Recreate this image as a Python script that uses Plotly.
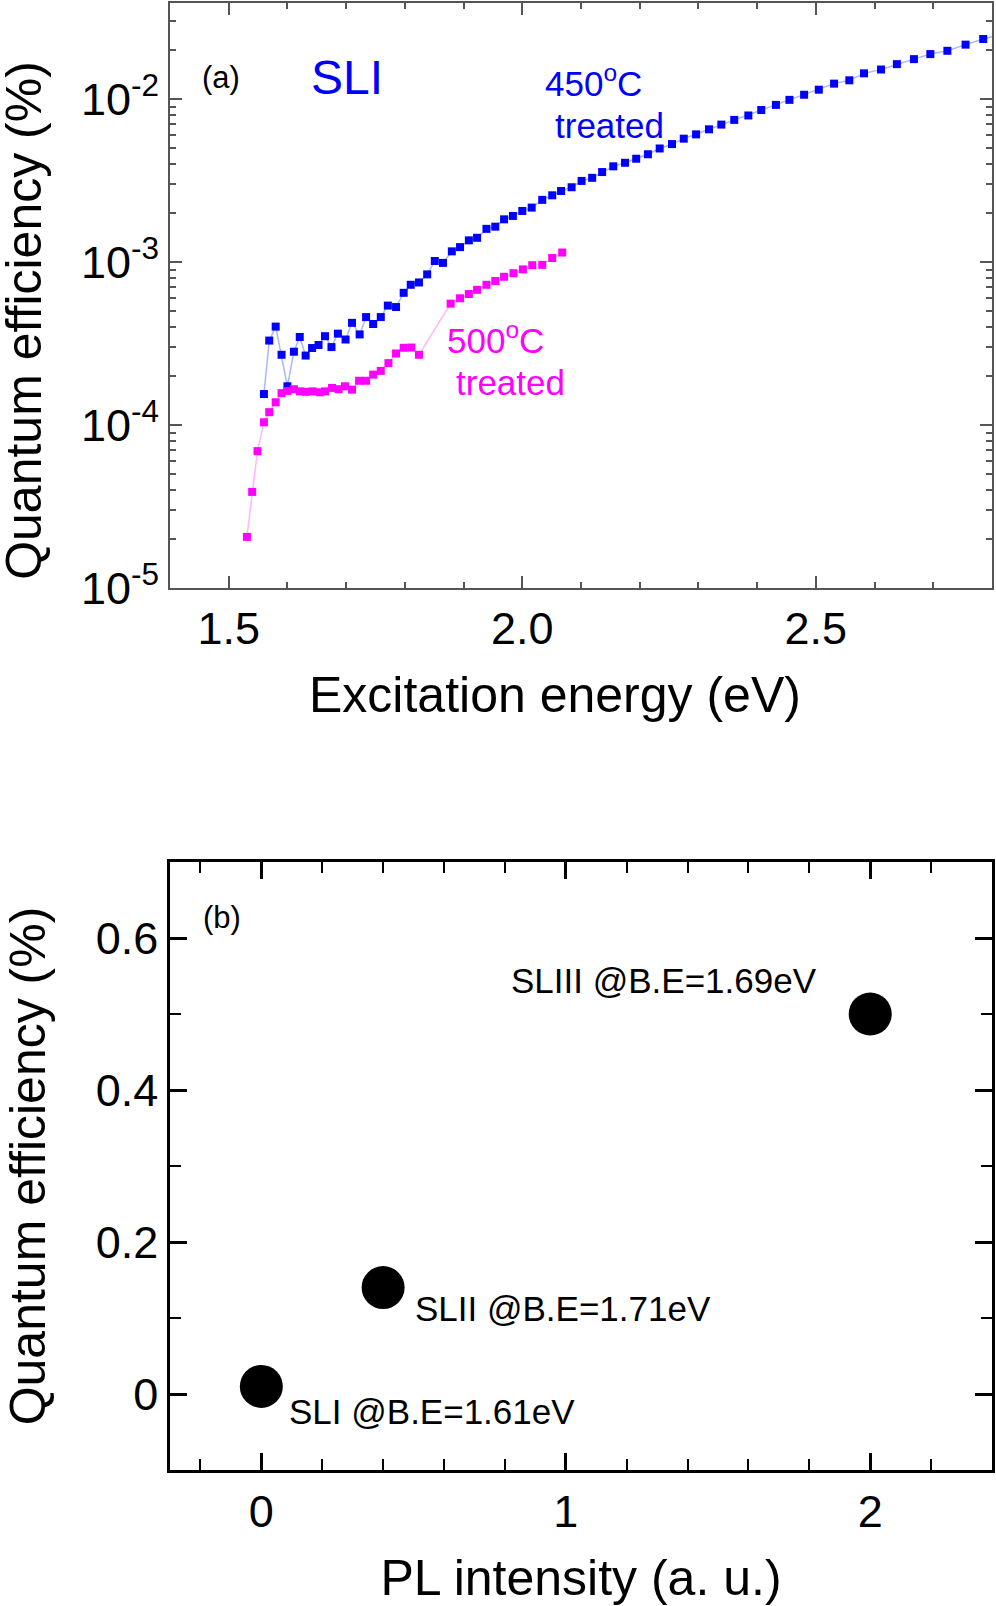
import plotly.graph_objects as go

# ---------------- data: panel (a) ----------------
blue_x = [1.560, 1.569, 1.580, 1.590, 1.600, 1.611, 1.621, 1.631, 1.642, 1.653,
          1.664, 1.675, 1.686, 1.699, 1.710, 1.723, 1.734, 1.746, 1.759, 1.771,
          1.785, 1.798, 1.810, 1.824, 1.838, 1.851, 1.865, 1.880, 1.894, 1.909,
          1.923, 1.939, 1.954, 1.969, 1.984, 2.000, 2.016, 2.034, 2.051, 2.066,
          2.084, 2.101, 2.119, 2.136, 2.155, 2.175, 2.194, 2.214, 2.234, 2.255,
          2.275, 2.296, 2.318, 2.339, 2.361, 2.385, 2.407, 2.432, 2.455, 2.480,
          2.505, 2.531, 2.557, 2.582, 2.611, 2.638, 2.667, 2.695, 2.724, 2.755,
          2.785, 2.815]
blue_y = [1.55e-4, 3.30e-4, 4.02e-4, 2.70e-4, 1.73e-4, 2.82e-4, 3.47e-4, 2.67e-4, 2.97e-4, 3.10e-4,
          3.51e-4, 3.01e-4, 3.64e-4, 3.35e-4, 4.24e-4, 3.60e-4, 4.60e-4, 4.17e-4, 4.60e-4, 5.41e-4,
          5.30e-4, 6.48e-4, 7.26e-4, 7.50e-4, 8.41e-4, 1.016e-3, 0.989e-3, 1.164e-3, 1.236e-3, 1.36e-3,
          1.41e-3, 1.60e-3, 1.65e-3, 1.83e-3, 1.92e-3, 2.06e-3, 2.16e-3, 2.41e-3, 2.57e-3, 2.73e-3,
          2.88e-3, 3.15e-3, 3.29e-3, 3.57e-3, 3.87e-3, 4.07e-3, 4.31e-3, 4.59e-3, 4.98e-3, 5.30e-3,
          5.72e-3, 6.08e-3, 6.53e-3, 6.98e-3, 7.46e-3, 7.94e-3, 8.58e-3, 9.22e-3, 9.90e-3, 1.064e-2,
          1.143e-2, 1.245e-2, 1.305e-2, 1.44e-2, 1.52e-2, 1.64e-2, 1.76e-2, 1.89e-2, 1.98e-2, 2.16e-2,
          2.34e-2, 2.50e-2]

pink_x = [1.531, 1.540, 1.549, 1.560, 1.569, 1.580, 1.590, 1.600, 1.611, 1.621,
          1.632, 1.643, 1.655, 1.664, 1.676, 1.687, 1.698, 1.710, 1.722, 1.734,
          1.746, 1.759, 1.772, 1.785, 1.798, 1.811, 1.824, 1.878, 1.894, 1.909,
          1.923, 1.939, 1.954, 1.969, 1.985, 2.001, 2.017, 2.034, 2.051, 2.068]
pink_y = [2.06e-5, 3.89e-5, 6.92e-5, 1.04e-4, 1.20e-4, 1.38e-4, 1.57e-4, 1.62e-4, 1.66e-4, 1.61e-4,
          1.60e-4, 1.61e-4, 1.59e-4, 1.61e-4, 1.69e-4, 1.66e-4, 1.73e-4, 1.65e-4, 1.87e-4, 1.87e-4,
          2.04e-4, 2.15e-4, 2.40e-4, 2.75e-4, 2.98e-4, 2.99e-4, 2.70e-4, 5.56e-4, 6.00e-4, 6.37e-4,
          6.76e-4, 7.26e-4, 7.66e-4, 8.13e-4, 8.55e-4, 9.02e-4, 9.57e-4, 9.62e-4, 1.06e-3, 1.145e-3]

a_ytick_vals = [1e-5, 1e-4, 1e-3, 1e-2]
a_ytick_text = ["10<sup>-5</sup>", "10<sup>-4</sup>", "10<sup>-3</sup>", "10<sup>-2</sup>"]

# ---------------- data: panel (b) ----------------
pl_intensity = [0.0, 0.4, 2.0]
qe_b = [0.01, 0.14, 0.50]
b_labels = ["SLI @B.E=1.61eV", "SLII @B.E=1.71eV", "SLIII @B.E=1.69eV"]
b_ytick_vals = [0, 0.2, 0.4, 0.6]
b_ytick_text = ["0", "0.2", "0.4", "0.6"]

FONT = "Liberation Sans, Arial, Helvetica, sans-serif"
BLUE = "#0000ff"
MAG = "#ff00ff"
GRAY = "#555555"

# minor log ticks
minor_log = [m * 10.0 ** e for e in range(-5, -1) for m in range(2, 10)]
minor_log = [v for v in minor_log if v < 0.038]

fig = go.Figure()

fig.add_trace(go.Scatter(
    x=blue_x, y=blue_y, mode="lines+markers",
    line=dict(color="rgba(90,110,255,0.5)", width=1.5),
    marker=dict(symbol="square", size=8, color=BLUE),
    xaxis="x", yaxis="y", showlegend=False))
fig.add_trace(go.Scatter(
    x=pink_x, y=pink_y, mode="lines+markers",
    line=dict(color="rgba(255,110,255,0.5)", width=1.5),
    marker=dict(symbol="square", size=8, color=MAG),
    xaxis="x", yaxis="y", showlegend=False))

fig.add_trace(go.Scatter(
    x=pl_intensity, y=qe_b, mode="markers",
    marker=dict(symbol="circle", size=43, color="black"),
    xaxis="x2", yaxis="y2", showlegend=False))

ax_common = dict(showgrid=False, zeroline=False, showline=True, mirror="ticks",
                 ticks="inside", automargin=False,
                 tickfont=dict(family=FONT, size=45, color="black"))

fig.update_layout(
    width=996, height=1606,
    margin=dict(l=170, r=4, t=3, b=136),
    paper_bgcolor="white", plot_bgcolor="white",
    font=dict(family=FONT, color="black"),
    xaxis=dict(**ax_common, domain=[0, 1], anchor="y", range=[1.4, 2.8],
               tickvals=[1.5, 2.0, 2.5], ticktext=["1.5", "2.0", "2.5"],
               ticklen=12, tickwidth=2, tickcolor=GRAY, linecolor=GRAY, linewidth=2,
               minor=dict(tickmode="linear", tick0=1.5, dtick=0.1, ticklen=6,
                          tickwidth=1.5, tickcolor=GRAY, ticks="inside")),
    yaxis=dict(**ax_common, domain=[0.6012, 1.0], anchor="x", type="log",
               range=[-5, -1.41], tickvals=a_ytick_vals, ticktext=a_ytick_text,
               ticklen=12, tickwidth=2, tickcolor=GRAY, linecolor=GRAY, linewidth=2,
               minor=dict(tickmode="array", tickvals=minor_log, ticklen=6,
                          tickwidth=1.5, tickcolor=GRAY, ticks="inside")),
    xaxis2=dict(**ax_common, domain=[0, 1], anchor="y2", range=[-0.3, 2.4],
                tickvals=[0, 1, 2], ticktext=["0", "1", "2"],
                ticklen=17, tickwidth=2.5, tickcolor="black", linecolor="black", linewidth=2.5,
                minor=dict(tickmode="linear", tick0=0, dtick=0.2, ticklen=11,
                           tickwidth=2, tickcolor="black", ticks="inside"),
                title=dict(text="PL intensity (a. u.)", standoff=25,
                           font=dict(family=FONT, size=50, color="black"))),
    yaxis2=dict(**ax_common, domain=[0, 0.41445], anchor="x2", range=[-0.1, 0.7],
                tickvals=b_ytick_vals, ticktext=b_ytick_text,
                ticklen=17, tickwidth=2.5, tickcolor="black", linecolor="black", linewidth=2.5,
                minor=dict(tickmode="linear", tick0=0, dtick=0.1, ticklen=11,
                           tickwidth=2, tickcolor="black", ticks="inside"),
                title=dict(text="Quantum efficiency (%)", standoff=53,
                           font=dict(family=FONT, size=50, color="black"))),
)

def ann(text, x, y, xref, yref, size, color="black", xanchor="left", angle=0):
    fig.add_annotation(text=text, x=x, y=y, xref=xref, yref=yref, showarrow=False,
                       xanchor=xanchor, yanchor="middle", textangle=angle, borderpad=0,
                       font=dict(family=FONT, size=size, color=color))

# panel (a) axis titles (slightly off-centre in the original)
ann("Excitation energy (eV)", 0.4687, 0.5285, "paper", "paper", 50, xanchor="center")
ann("Quantum efficiency (%)", -0.1775, 0.7834, "paper", "paper", 50, xanchor="center", angle=-90)

# panel (a) annotations
ann("(a)", 0.038, 0.8735, "x domain", "y domain", 31)
ann("SLI", 0.170, 0.8735, "x domain", "y domain", 48, BLUE)
ann("450<sup>o</sup>C", 0.455, 0.866, "x domain", "y domain", 35, BLUE)
ann("treated", 0.467, 0.791, "x domain", "y domain", 35, BLUE)
ann("500<sup>o</sup>C", 0.336, 0.428, "x domain", "y domain", 35, MAG)
ann("treated", 0.347, 0.352, "x domain", "y domain", 35, MAG)

# panel (b) annotations
ann("(b)", 0.039, 0.9095, "x2 domain", "y2 domain", 31)
label_pos = [(0.144, 0.0954), (0.297, 0.2664), (0.414, 0.8051)]
for txt, (px, py) in zip(b_labels, label_pos):
    ann(txt, px, py, "x2 domain", "y2 domain", 35)

fig.write_html("out.html")
